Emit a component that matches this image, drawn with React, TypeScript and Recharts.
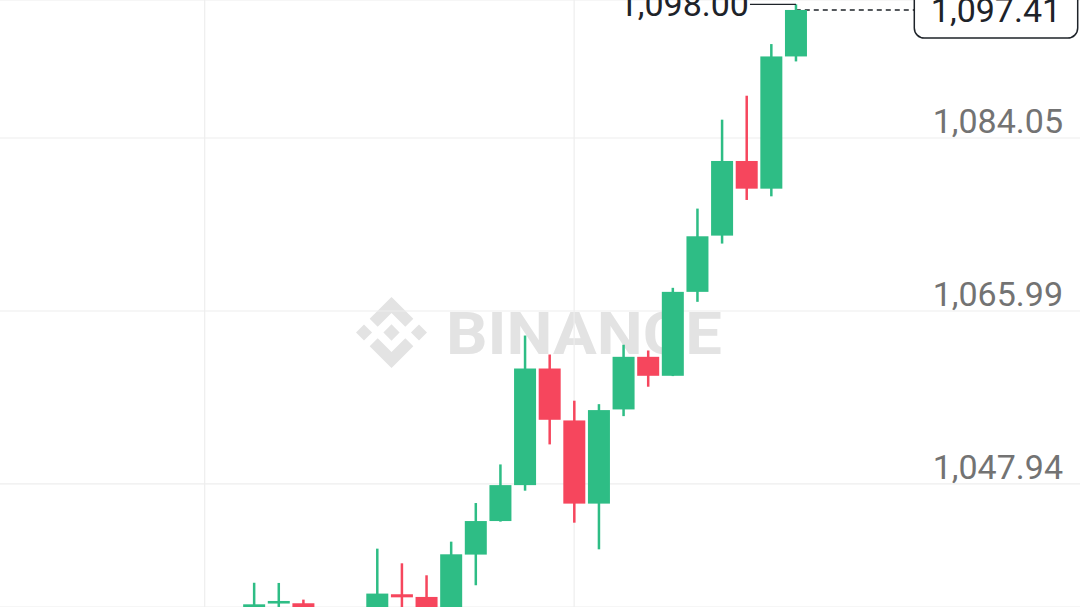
import React from 'react';
import { ComposedChart, Bar, XAxis, YAxis, CartesianGrid, ReferenceLine } from 'recharts';

const W = 1080;
const H = 607;
const GREEN = '#2EBD85';
const RED = '#F6465D';
const FONT = 'Roboto, "Noto Sans", sans-serif';

// category slots (candle index); negative / beyond-last slots are empty time slots
const slots = [
  -9, -8, -7, -6, -5, -4, -3, -2, -1, 0, 1, 2, 3, 4, 5, 6, 7, 8, 9, 10, 11,
  12, 13, 14, 15, 16, 17, 18, 19, 20, 21, 22, 23, 24, 25, 26, 27, 28, 29, 30,
  31, 32, 33,
];
const opens = [1034.90, 1035.46, 1035.49, 1034.90, 1034.40, 1034.80, 1036.43, 1036.15, 1034.95, 1040.57, 1044.07, 1047.82, 1059.99, 1054.57, 1045.89, 1055.72, 1061.21, 1059.23, 1067.99, 1073.86, 1081.65, 1078.76, 1092.56];
const highs = [1037.63, 1037.61, 1035.87, 1035.00, 1035.00, 1041.19, 1039.66, 1038.41, 1041.92, 1045.95, 1049.98, 1063.43, 1061.45, 1056.63, 1056.27, 1062.47, 1061.87, 1068.41, 1076.68, 1085.96, 1088.46, 1093.85, 1098.00];
const lows = [1034.50, 1034.80, 1034.60, 1033.90, 1034.00, 1034.50, 1034.70, 1034.60, 1034.70, 1037.37, 1044.01, 1047.24, 1052.07, 1043.90, 1041.12, 1055.02, 1058.09, 1059.20, 1066.95, 1073.03, 1077.58, 1077.96, 1092.04];
const closes = [1035.38, 1035.73, 1034.90, 1034.40, 1034.80, 1036.50, 1036.11, 1034.90, 1040.60, 1044.07, 1047.82, 1059.99, 1054.64, 1045.89, 1055.65, 1061.21, 1059.23, 1067.99, 1073.79, 1081.65, 1078.76, 1092.56, 1097.41];

const yTicks = [1047.94, 1065.99, 1084.05];
const yDomain = [1035.1, 1098.45];
const gridSlots = [-2, 13];
const lastPrice = 1097.41;
const lastSlot = 22;
const tagSlot = 27;

const maxHigh = Math.max(...highs);
const data = slots.map((s) =>
  s >= 0 && s < opens.length
    ? { i: s, o: opens[s], h: highs[s], l: lows[s], c: closes[s], isMax: highs[s] === maxHigh }
    : { i: s }
);

const fmt = (v: number) =>
  v.toLocaleString('en-US', { minimumFractionDigits: 2, maximumFractionDigits: 2 });

const Candle = (props: any) => {
  const { x, y, width, height, payload } = props;
  if (!payload || payload.h == null) return null;
  const top = Math.min(y, y + height);
  const bot = Math.max(y, y + height);
  const range = payload.h - payload.l;
  const k = range > 0 ? (bot - top) / range : 0;
  const py = (v: number) => top + (payload.h - v) * k;
  const up = payload.c >= payload.o;
  const color = up ? GREEN : RED;
  const cx = x + width / 2;
  const bTop = py(Math.max(payload.o, payload.c));
  const bBot = py(Math.min(payload.o, payload.c));
  return (
    <g>
      <rect x={cx - 1.25} y={top} width={2.5} height={bot - top} fill={color} />
      <rect x={x} y={bTop} width={width} height={Math.max(1.5, bBot - bTop)} fill={color} />
      {payload.isMax && (
        <g>
          <line x1={cx} y1={top} x2={cx - 46} y2={top} stroke="#1E2329" strokeWidth={1.3} />
          <text
            x={cx - 47}
            y={top + 12}
            textAnchor="end"
            fontSize={34}
            fontFamily={FONT}
            fill="#1E2329"
          >
            {fmt(payload.h)}
          </text>
        </g>
      )}
    </g>
  );
};

const YTick = (props: any) => {
  const { y, payload } = props;
  return (
    <text x={W - 17} y={y - 5} textAnchor="end" fontSize={34} fontFamily={FONT} fill="#737373">
      {fmt(payload.value)}
    </text>
  );
};

const PriceTag = (props: any) => {
  const vb = props.viewBox || {};
  const right = (vb.x || 0) + (vb.width || 0) - 2.3;
  const w = 163.4;
  const h = 56.2;
  const cy = vb.y || 0;
  return (
    <g>
      <rect
        x={right - w}
        y={cy - h / 2}
        width={w}
        height={h}
        rx={10}
        ry={10}
        fill="#ffffff"
        stroke="#1E2329"
        strokeWidth={1.5}
      />
      <text
        x={right - w / 2}
        y={cy + 12}
        textAnchor="middle"
        fontSize={34}
        fontFamily={FONT}
        fill="#1E2329"
      >
        {fmt(lastPrice)}
      </text>
    </g>
  );
};

const Watermark = () => {
  const s = 71 / 126.6;
  return (
    <svg width={W} height={H} style={{ position: 'absolute', left: 0, top: 0 }}>
      <g transform={`translate(356,297) scale(${s})`} fill="#E3E3E3">
        <polygon points="63.3,0 102.2,38.9 87.9,53.2 63.3,28.6 38.7,53.2 24.4,38.9" />
        <polygon points="63.3,126.6 102.2,87.7 87.9,73.4 63.3,98 38.7,73.4 24.4,87.7" />
        <polygon points="0,63.3 14.3,49 28.6,63.3 14.3,77.6" />
        <polygon points="98,63.3 112.3,49 126.6,63.3 112.3,77.6" />
        <polygon points="63.3,48.8 77.8,63.3 63.3,77.8 48.8,63.3" />
      </g>
      <text
        x={446}
        y={354}
        fontSize={59}
        fontWeight={700}
        fontFamily={FONT}
        fill="#E3E3E3"
        textLength={276}
        lengthAdjust="spacingAndGlyphs"
      >
        BINANCE
      </text>
    </svg>
  );
};

export default function App() {
  return (
    <div
      style={{
        position: 'absolute',
        left: 0,
        top: 0,
        width: W,
        height: H,
        overflow: 'hidden',
        background: '#ffffff',
      }}
    >
      <Watermark />
      <div style={{ position: 'absolute', left: 0, top: 0 }}>
        <ComposedChart
          width={W}
          height={H}
          data={data}
          margin={{ top: 0, right: 0, bottom: 0, left: 0 }}
          barCategoryGap={1.5}
        >
          <CartesianGrid stroke="#EEEEEE" strokeWidth={1.2} vertical={false} />
          {gridSlots.map((g) => (
            <ReferenceLine key={g} x={g} stroke="#EEEEEE" strokeWidth={1.2} zIndex={-100} />
          ))}
          <XAxis dataKey="i" type="category" hide padding={{ left: 20, right: 1 }} />
          <YAxis
            orientation="right"
            mirror
            domain={yDomain}
            allowDataOverflow
            ticks={yTicks}
            axisLine={false}
            tickLine={false}
            tick={<YTick />}
            type="number"
          />
          <ReferenceLine
            segment={[
              { x: lastSlot, y: lastPrice },
              { x: tagSlot, y: lastPrice },
            ]}
            stroke="#1E2329"
            strokeWidth={1.4}
            strokeDasharray="5 4"
            zIndex={200}
          />
          <Bar
            dataKey={(d: any) => (d.h == null ? null : [d.l, d.h])}
            shape={<Candle />}
            isAnimationActive={false}
            zIndex={300}
          />
          <ReferenceLine
            y={lastPrice}
            stroke="none"
            label={(p: any) => <PriceTag {...p} />}
            zIndex={2000}
          />
        </ComposedChart>
      </div>
    </div>
  );
}
